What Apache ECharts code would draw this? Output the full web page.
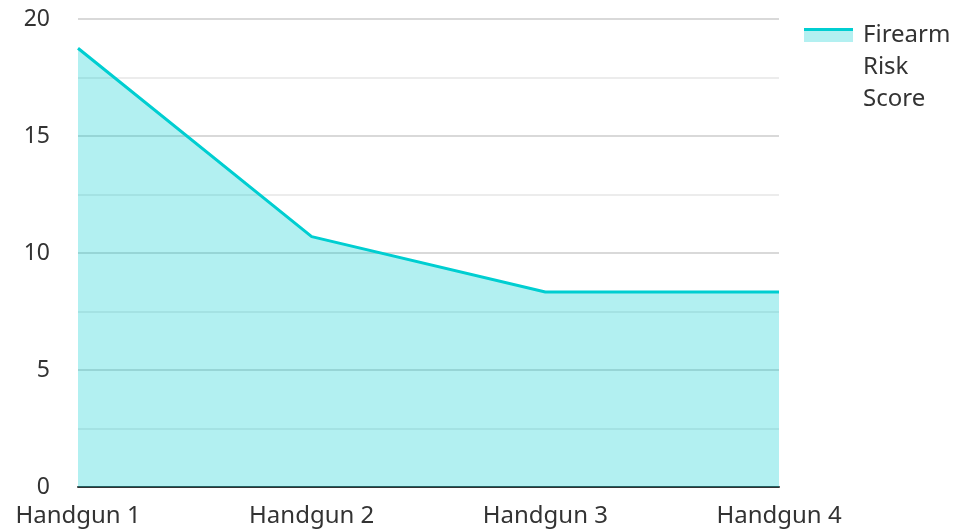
<!DOCTYPE html>
<html><head><meta charset="utf-8">
<script src="https://cdn.jsdelivr.net/npm/echarts@6/dist/echarts.min.js"></script>
<style>html,body{margin:0;padding:0;background:#fff}#c{width:955px;height:531px}</style>
</head><body><div id="c"></div>
<script>
const categories = ['Handgun 1', 'Handgun 2', 'Handgun 3', 'Handgun 4'];
const riskScores = [18.75, 10.7, 8.33, 8.33];
const seriesName = 'Firearm Risk Score';
const yTicks = [0, 5, 10, 15, 20];

const chart = echarts.init(document.getElementById('c'));
const legendGradient = new echarts.graphic.LinearGradient(0, 0, 0, 1, [
  { offset: 0, color: '#00CED1' }, { offset: 0.25, color: '#00CED1' },
  { offset: 0.25, color: '#b3f0f1' }, { offset: 1, color: '#b3f0f1' }
]);
chart.setOption({
  animation: false,
  textStyle: { fontFamily: 'Noto Sans' },
  grid: { left: 78, right: 176, top: 19, bottom: 44, containLabel: false },
  legend: {
    left: 804, top: -45, orient: 'vertical', padding: 0,
    icon: 'rect',
    itemWidth: 49, itemHeight: 14,
    itemStyle: { color: legendGradient, borderWidth: 0 },
    formatter: n => '\n\n' + n.split(' ').join('\n'),
    textStyle: { fontSize: 24, color: '#333', lineHeight: 32, fontFamily: 'Noto Sans', padding: [0, 0, 0, 5] }
  },
  xAxis: {
    type: 'category', data: categories, boundaryGap: false,
    axisLine: { lineStyle: { color: '#333', width: 2 } },
    axisTick: { show: false },
    axisLabel: { fontSize: 24, color: '#333', margin: 17 }
  },
  yAxis: {
    type: 'value', min: yTicks[0], max: yTicks[yTicks.length - 1], interval: 5,
    axisLine: { show: false }, axisTick: { show: false },
    axisLabel: { fontSize: 23, color: '#333', margin: 28 },
    splitLine: { lineStyle: { color: '#ccc', width: 1.5 } },
    minorTick: { show: false, splitNumber: 2 },
    minorSplitLine: { show: true, lineStyle: { color: '#e6e6e6', width: 1.5 } }
  },
  series: [{
    name: seriesName, type: 'line', data: riskScores,
    showSymbol: false, symbol: 'none',
    lineStyle: { color: '#00CED1', width: 3 },
    itemStyle: { color: '#00CED1' },
    areaStyle: { color: '#00CED1', opacity: 0.3 }
  }]
});
</script></body></html>
